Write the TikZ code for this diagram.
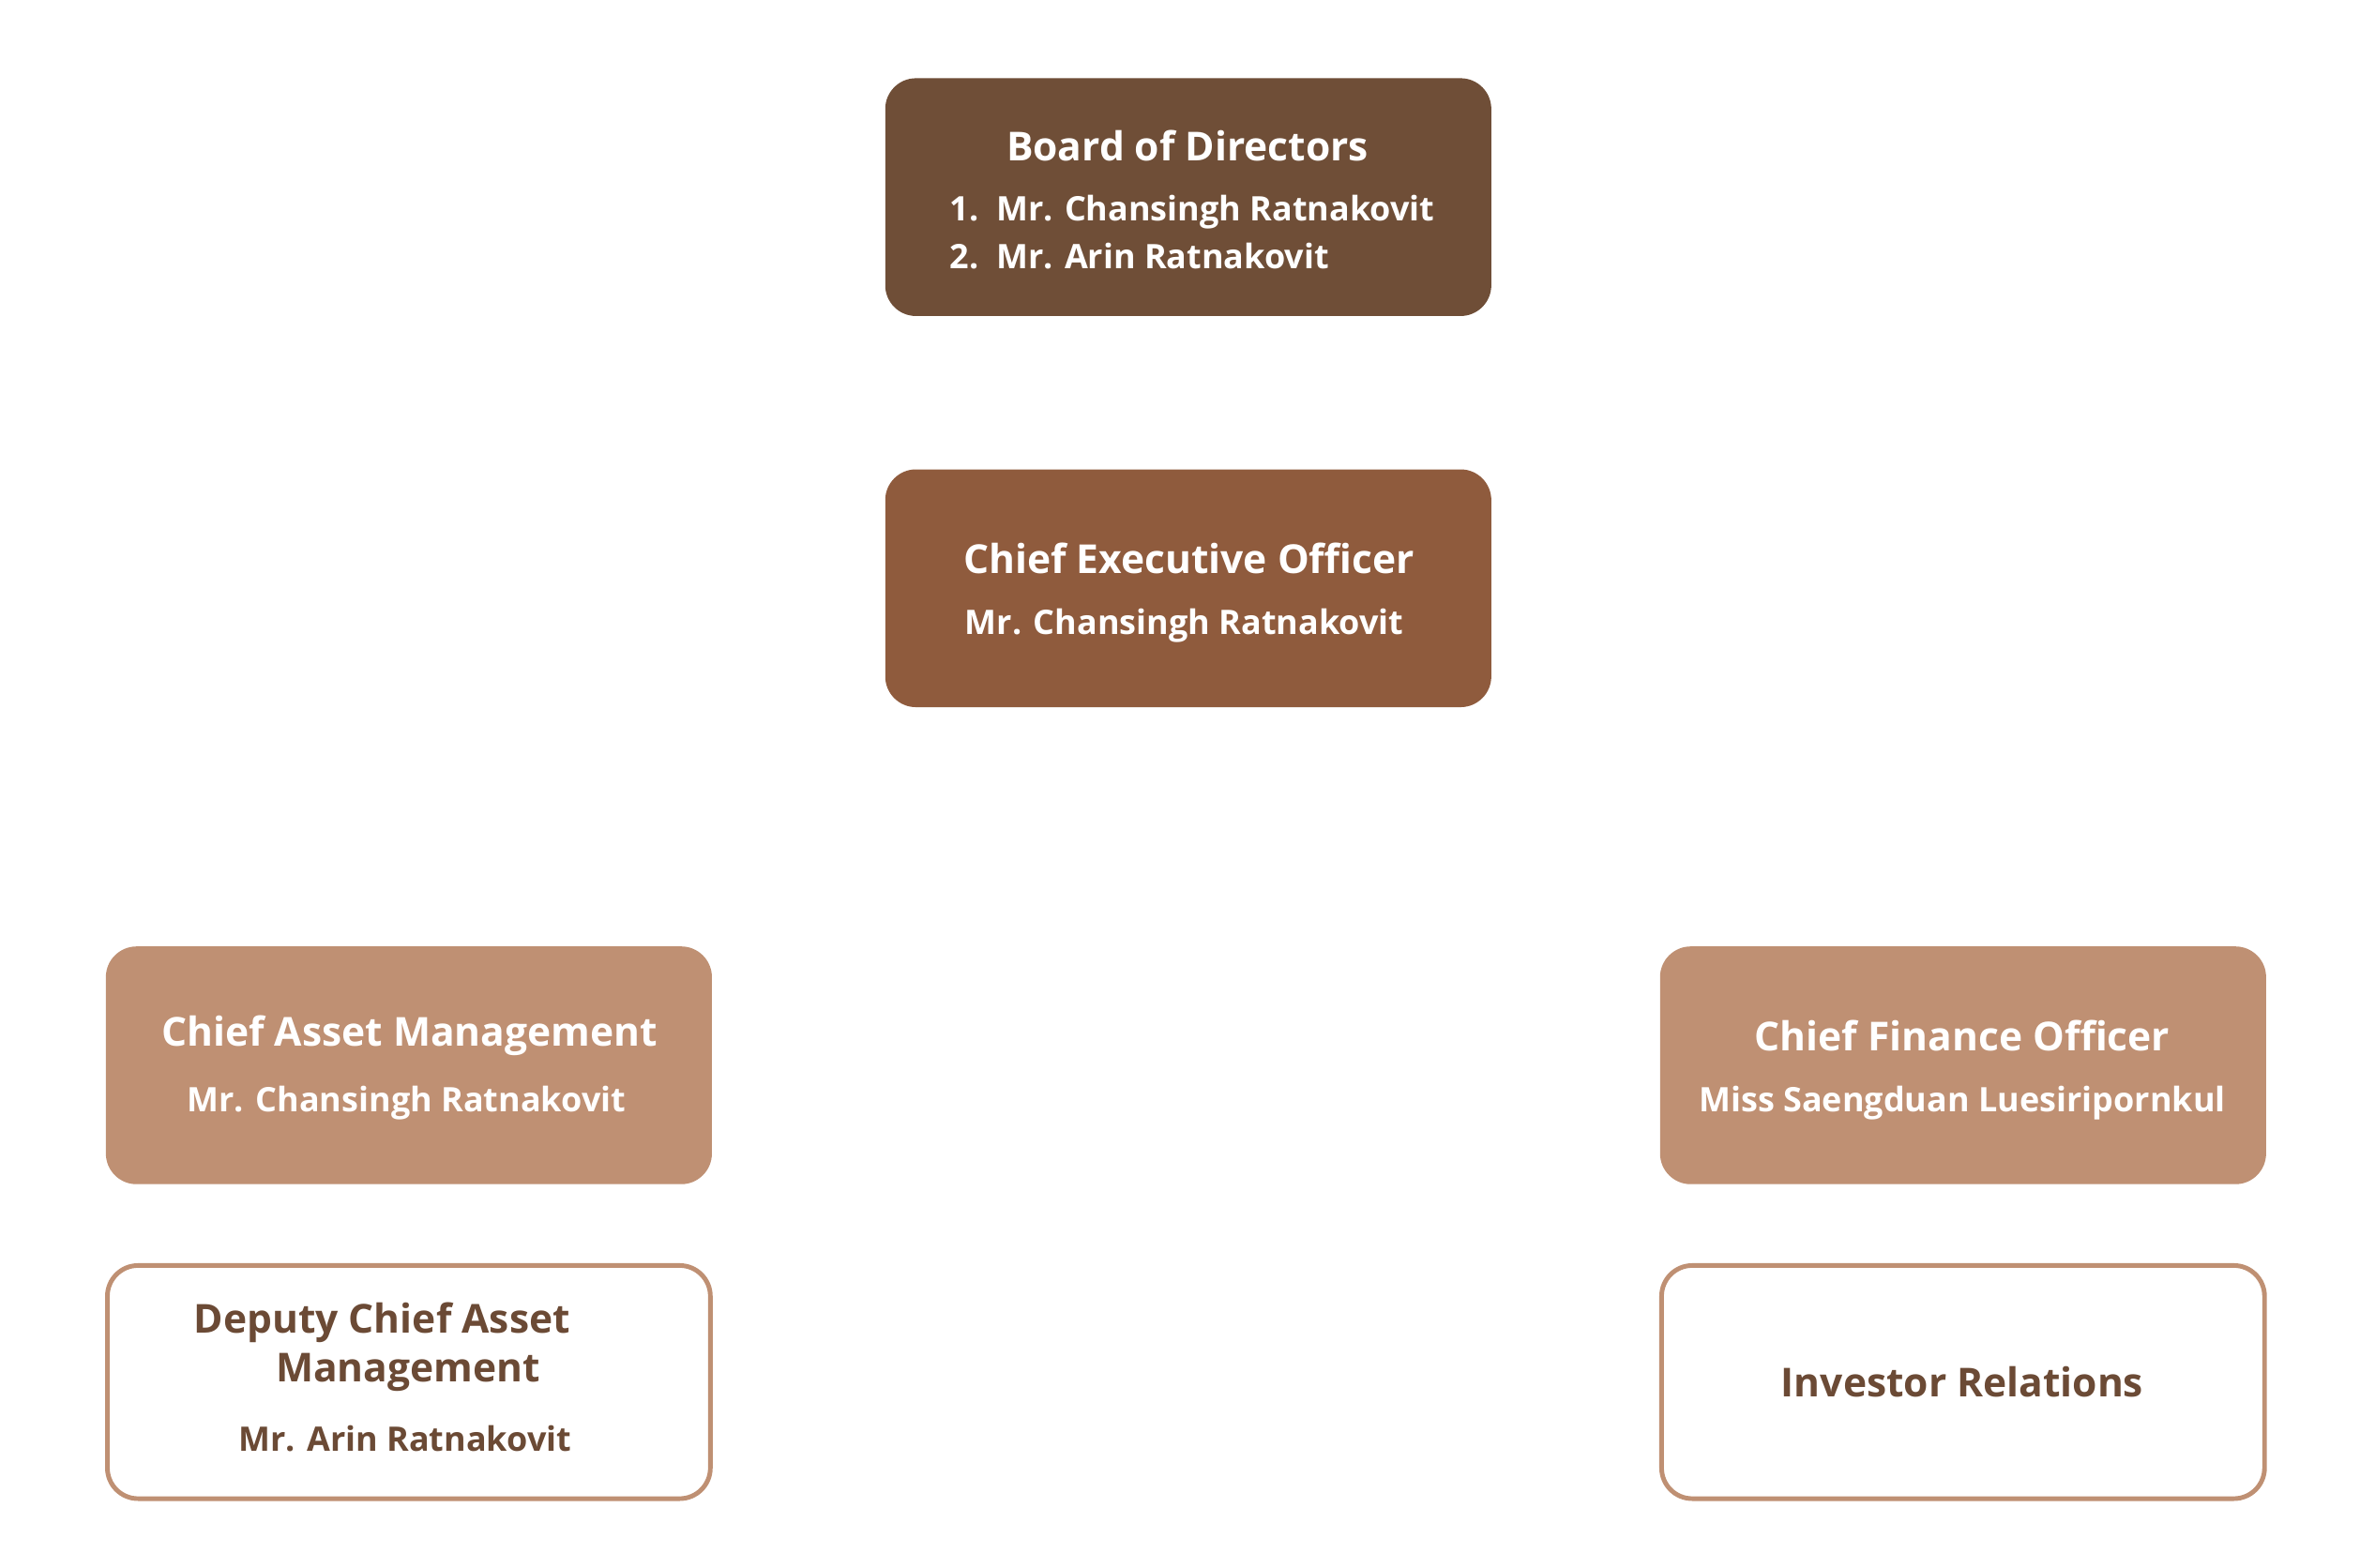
\documentclass[tikz,border=0pt]{standalone}
\usepackage{fontspec}
\setmainfont{Open Sans}
\definecolor{bod}{HTML}{6F4E37}
\definecolor{ceo}{HTML}{8F5B3D}
\definecolor{lvl}{HTML}{BF9073}
\definecolor{txt}{HTML}{6B4A35}
\begin{document}
\begin{tikzpicture}[x=0.5pt,y=-0.5pt,
 box/.style={rounded corners=10pt,line width=1.5pt},
 t/.style={font=\fontsize{13}{15}\selectfont\bfseries},
 s/.style={font=\fontsize{11}{13}\selectfont\bfseries}]
\useasboundingbox[fill=white] (0,0) rectangle (1548,1022);
\fill[bod,box] (577,51) rectangle (972,206);
\node[t,white] (b) at (774,95) {Board of Directors};
\node[s,white,anchor=west] (b1) at (612,138) {1.\ \ Mr. Chansingh Ratnakovit};
\node[s,white,anchor=west] (b2) at (612,167) {2.\ \ Mr. Arin Ratnakovit};
\fill[ceo,box] (577,306) rectangle (972,461);
\node[t,white] (c) at (775,364) {Chief Executive Officer};
\node[s,white] (c1) at (772,408) {Mr. Chansingh Ratnakovit};
\fill[lvl,box] (69,617) rectangle (464,772);
\node[t,white] (a) at (267,675) {Chief Asset Management};
\node[s,white] (a1) at (265,719) {Mr. Chansingh Ratnakovit};
\fill[lvl,box] (1082,617) rectangle (1477,772);
\node[t,white] (f) at (1279,675) {Chief Finance Officer};
\node[s,white] (f1) at (1279,719) {Miss Saengduan Luesiripornkul};
\draw[lvl,box] (70,825) rectangle (463,977);
\node[t,txt] (d) at (249,862) {Deputy Chief Asset};
\node[t,txt] (d2) at (266,895) {Management};
\node[s,txt] (d1) at (264,938) {Mr. Arin Ratnakovit};
\draw[lvl,box] (1083,825) rectangle (1476,977);
\node[t,txt] (i) at (1279,901) {Investor Relations};
\end{tikzpicture}
\end{document}
